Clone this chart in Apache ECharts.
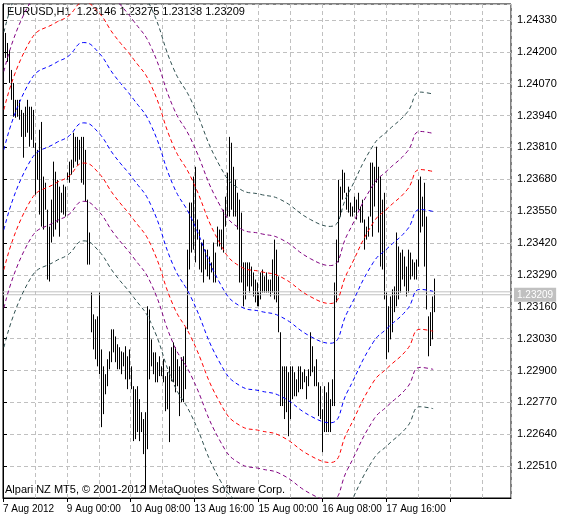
<!DOCTYPE html>
<html><head><meta charset="utf-8">
<script src="https://cdn.jsdelivr.net/npm/echarts@6/dist/echarts.min.js"></script>
<style>html,body{margin:0;padding:0;background:#fff}#c{width:564px;height:519px}</style>
</head><body><div id="c"></div>
<script>
// Hourly bars: hour index 1..216 (hour 0 = 7 Aug 16:00)
const highs = [1.24277,1.24236,1.24207,1.24126,1.24073,1.24004,1.24004,1.24004,1.23963,1.23951,
1.23976,1.24004,1.23976,1.23976,1.23963,1.23829,1.23800,1.23882,1.23914,1.23691,
1.23666,1.23556,1.23487,1.23597,1.23752,1.23711,1.23678,1.23650,1.23625,1.23658,
1.23650,1.23707,1.23752,1.23760,1.23870,1.23853,1.23853,1.23841,1.23853,1.23853,
1.23800,1.23597,1.23463,1.23218,1.23129,1.23109,1.23121,1.23218,1.22986,1.22917,
1.22885,1.22946,1.22978,1.23068,1.23068,1.23039,1.23007,1.22995,1.22978,1.22974,
1.22999,1.22958,1.22986,1.22917,1.22836,1.22824,1.22836,1.22783,1.22730,1.22702,
1.22730,1.23162,1.23149,1.23027,1.22974,1.22974,1.22934,1.22958,1.22917,1.22946,
1.22877,1.22893,1.22917,1.22995,1.23015,1.22995,1.22946,1.22917,1.22954,1.22958,
1.23076,1.23393,1.23585,1.23585,1.23691,1.23731,1.23516,1.23475,1.23422,1.23434,
1.23393,1.23393,1.23365,1.23341,1.23422,1.23381,1.23487,1.23475,1.23475,1.23556,
1.23609,1.23707,1.23853,1.23829,1.23731,1.23678,1.23625,1.23597,1.23544,1.23341,
1.23341,1.23341,1.23341,1.23324,1.23300,1.23271,1.23259,1.23218,1.23300,1.23312,
1.23284,1.23300,1.23271,1.23271,1.23353,1.23434,1.23393,1.23284,1.23056,1.22917,
1.22917,1.22917,1.22893,1.22917,1.22917,1.22893,1.22864,1.22917,1.22917,1.22893,
1.22905,1.22877,1.22905,1.23056,1.22999,1.22917,1.22946,1.22852,1.22836,1.22742,
1.22836,1.22811,1.22852,1.22783,1.22864,1.23259,1.23434,1.23678,1.23650,1.23719,
1.23707,1.23625,1.23650,1.23585,1.23569,1.23609,1.23597,1.23625,1.23569,1.23597,
1.23516,1.23487,1.23528,1.23748,1.23748,1.23731,1.23813,1.23731,1.23691,1.23597,
1.23625,1.23218,1.23162,1.23202,1.23231,1.23243,1.23463,1.23406,1.23381,1.23393,
1.23365,1.23324,1.23393,1.23381,1.23353,1.23341,1.23353,1.23678,1.23691,1.23609,
1.23666,1.23528,1.23121,1.23138,1.23202,1.23275];
const lows = [1.24175,1.24159,1.24073,1.24004,1.23935,1.23931,1.23935,1.23923,1.23853,1.23768,
1.23853,1.23870,1.23813,1.23841,1.23809,1.23617,1.23678,1.23536,1.23487,1.23475,
1.23556,1.23271,1.23263,1.23422,1.23446,1.23475,1.23503,1.23446,1.23544,1.23536,
1.23528,1.23678,1.23666,1.23699,1.23727,1.23752,1.23739,1.23760,1.23666,1.23658,
1.23589,1.23332,1.23332,1.23056,1.22986,1.22946,1.22917,1.22885,1.22669,1.22722,
1.22803,1.22836,1.22905,1.22934,1.22974,1.22934,1.22905,1.22905,1.22885,1.22917,
1.22864,1.22824,1.22864,1.22824,1.22612,1.22620,1.22649,1.22612,1.22649,1.22559,
1.22404,1.22579,1.22864,1.22917,1.22885,1.22852,1.22852,1.22877,1.22877,1.22852,
1.22734,1.22742,1.22608,1.22856,1.22852,1.22811,1.22836,1.22714,1.22771,1.22771,
1.22824,1.23068,1.23312,1.23381,1.23393,1.23341,1.23434,1.23312,1.23300,1.23259,
1.23312,1.23284,1.23271,1.23300,1.23259,1.23259,1.23406,1.23406,1.23393,1.23381,
1.23487,1.23528,1.23528,1.23556,1.23528,1.23528,1.23475,1.23259,1.23259,1.23162,
1.23190,1.23243,1.23218,1.23243,1.23202,1.23178,1.23162,1.23162,1.23190,1.23218,
1.23218,1.23218,1.23218,1.23202,1.23218,1.23190,1.23178,1.23056,1.22755,1.22755,
1.22702,1.22730,1.22632,1.22702,1.22783,1.22795,1.22795,1.22811,1.22824,1.22824,
1.22852,1.22783,1.22836,1.22877,1.22893,1.22836,1.22836,1.22714,1.22702,1.22567,
1.22649,1.22649,1.22649,1.22649,1.22755,1.22755,1.23178,1.23341,1.23528,1.23597,
1.23625,1.23556,1.23544,1.23528,1.23528,1.23544,1.23516,1.23556,1.23503,1.23503,
1.23393,1.23434,1.23446,1.23528,1.23446,1.23569,1.23666,1.23463,1.23324,1.23312,
1.23190,1.22946,1.22974,1.23027,1.23056,1.23138,1.23162,1.23190,1.23218,1.23271,
1.23243,1.23202,1.23218,1.23271,1.23284,1.23271,1.23271,1.23324,1.23463,1.23487,
1.23324,1.23149,1.22958,1.23000,1.23027,1.23138];
// Envelope centre (moving average) sampled along the hour axis
const maHours = [0.5,14,26.5,32.5,40.5,47.5,55.5,65.5,74,85.5,94,109,119,129,139,154,164,172.5,185.5,192.5,202.5,209,215.5];
const maPrices = [1.23638,1.23923,1.23992,1.24017,1.24074,1.24037,1.23943,1.23842,1.23740,1.23488,1.23365,1.23089,1.22999,1.22979,1.22958,1.22877,1.22849,1.22975,1.23178,1.23235,1.23312,1.23394,1.23386];
const envDeviations = [0.132, 0.264, 0.39, 0.52]; // percent
const envColors = ['#0000ff', '#ff0000', '#800080', '#2f4f4f'];
const xTickLabels = {0:'7 Aug 2012',32:'9 Aug 00:00',64:'10 Aug 08:00',96:'13 Aug 16:00',128:'15 Aug 00:00',160:'16 Aug 08:00',192:'17 Aug 16:00'};
const bidPrice = 1.23209, askLine = 1.23221;
const titleText = 'EURUSD,H1  1.23146 1.23275 1.23138 1.23209';
const footText = 'Alpari NZ MT5, © 2001-2012 MetaQuotes Software Corp.';

const FONT = 'Liberation Sans';
const X_MAX = 254.5;
const barData = highs.map((h, i) => [i + 1, h, lows[i]]);
const series = [];
series.push({
  type: 'line', symbol: 'none', silent: true, data: [[0, askLine], [X_MAX, askLine]],
  lineStyle: { color: '#c0c0c0', width: 1 }
});
series.push({
  type: 'line', symbol: 'none', silent: true, data: [[0, bidPrice], [X_MAX, bidPrice]],
  lineStyle: { color: '#c0c0c0', width: 1 },
  endLabel: { show: true, formatter: bidPrice.toFixed(5), color: '#fff', backgroundColor: '#c0c0c0',
    fontFamily: FONT, fontSize: 10, padding: [2, 3], distance: 3 }
});
envDeviations.forEach((d, k) => {
  [1, -1].forEach(s => {
    series.push({
      type: 'line', smooth: true, symbol: 'none', silent: true,
      data: maHours.map((h, i) => [h, maPrices[i] * (1 + s * d / 100)]),
      lineStyle: { color: envColors[k], width: 1, type: [4, 3] }
    });
  });
});
series.push({
  type: 'custom', data: barData,
  renderItem: (params, api) => {
    const a = api.coord([api.value(0), api.value(1)]);
    const b = api.coord([api.value(0), api.value(2)]);
    return { type: 'line', shape: { x1: Math.round(a[0]) + 0.5, y1: a[1], x2: Math.round(a[0]) + 0.5, y2: b[1] },
      style: { stroke: '#000', lineWidth: 1 } };
  },
  encode: { x: 0, y: [1, 2] }
});

const chart = echarts.init(document.getElementById('c'), null, { renderer: 'canvas' });
chart.setOption({
  animation: false,
  grid: { left: 2, right: 53, top: 4, bottom: 21, show: true, borderColor: '#000', borderWidth: 1 },
  graphic: [
    { type: 'text', left: 7, top: 6, style: { text: titleText, font: '11px "Liberation Sans"', fill: '#000' } },
    { type: 'text', left: 5, top: 484, style: { text: footText, font: '11px "Liberation Sans"', fill: '#000' } }
  ],
  xAxis: [
    { type: 'value', min: 0, max: X_MAX, interval: 16, axisLine: { show: false }, axisTick: { show: false },
      axisLabel: { show: false }, splitLine: { show: true, lineStyle: { color: '#c0c0c0', type: [4, 3] } } },
    { type: 'value', position: 'bottom', min: 0, max: X_MAX, interval: 32,
      axisLine: { show: true, lineStyle: { color: '#000' } },
      axisTick: { show: true, length: 4, lineStyle: { color: '#000' } }, splitLine: { show: false },
      axisLabel: { show: true, showMaxLabel: false, align: 'left', margin: 6, color: '#000', fontFamily: FONT, fontSize: 10,
        formatter: v => xTickLabels[v] || '' } }
  ],
  yAxis: {
    type: 'value', position: 'right', min: 1.22380, max: 1.24395, interval: 0.0013,
    axisLine: { show: true, lineStyle: { color: '#000' } },
    axisTick: { show: true, length: 4, lineStyle: { color: '#000' } },
    splitLine: { show: true, lineStyle: { color: '#c0c0c0', type: [4, 3] } },
    axisLabel: { show: true, showMinLabel: false, showMaxLabel: false, margin: 6, color: '#000', fontFamily: FONT, fontSize: 11,
      formatter: v => v.toFixed(5) }
  },
  series: series
});
</script></body></html>
